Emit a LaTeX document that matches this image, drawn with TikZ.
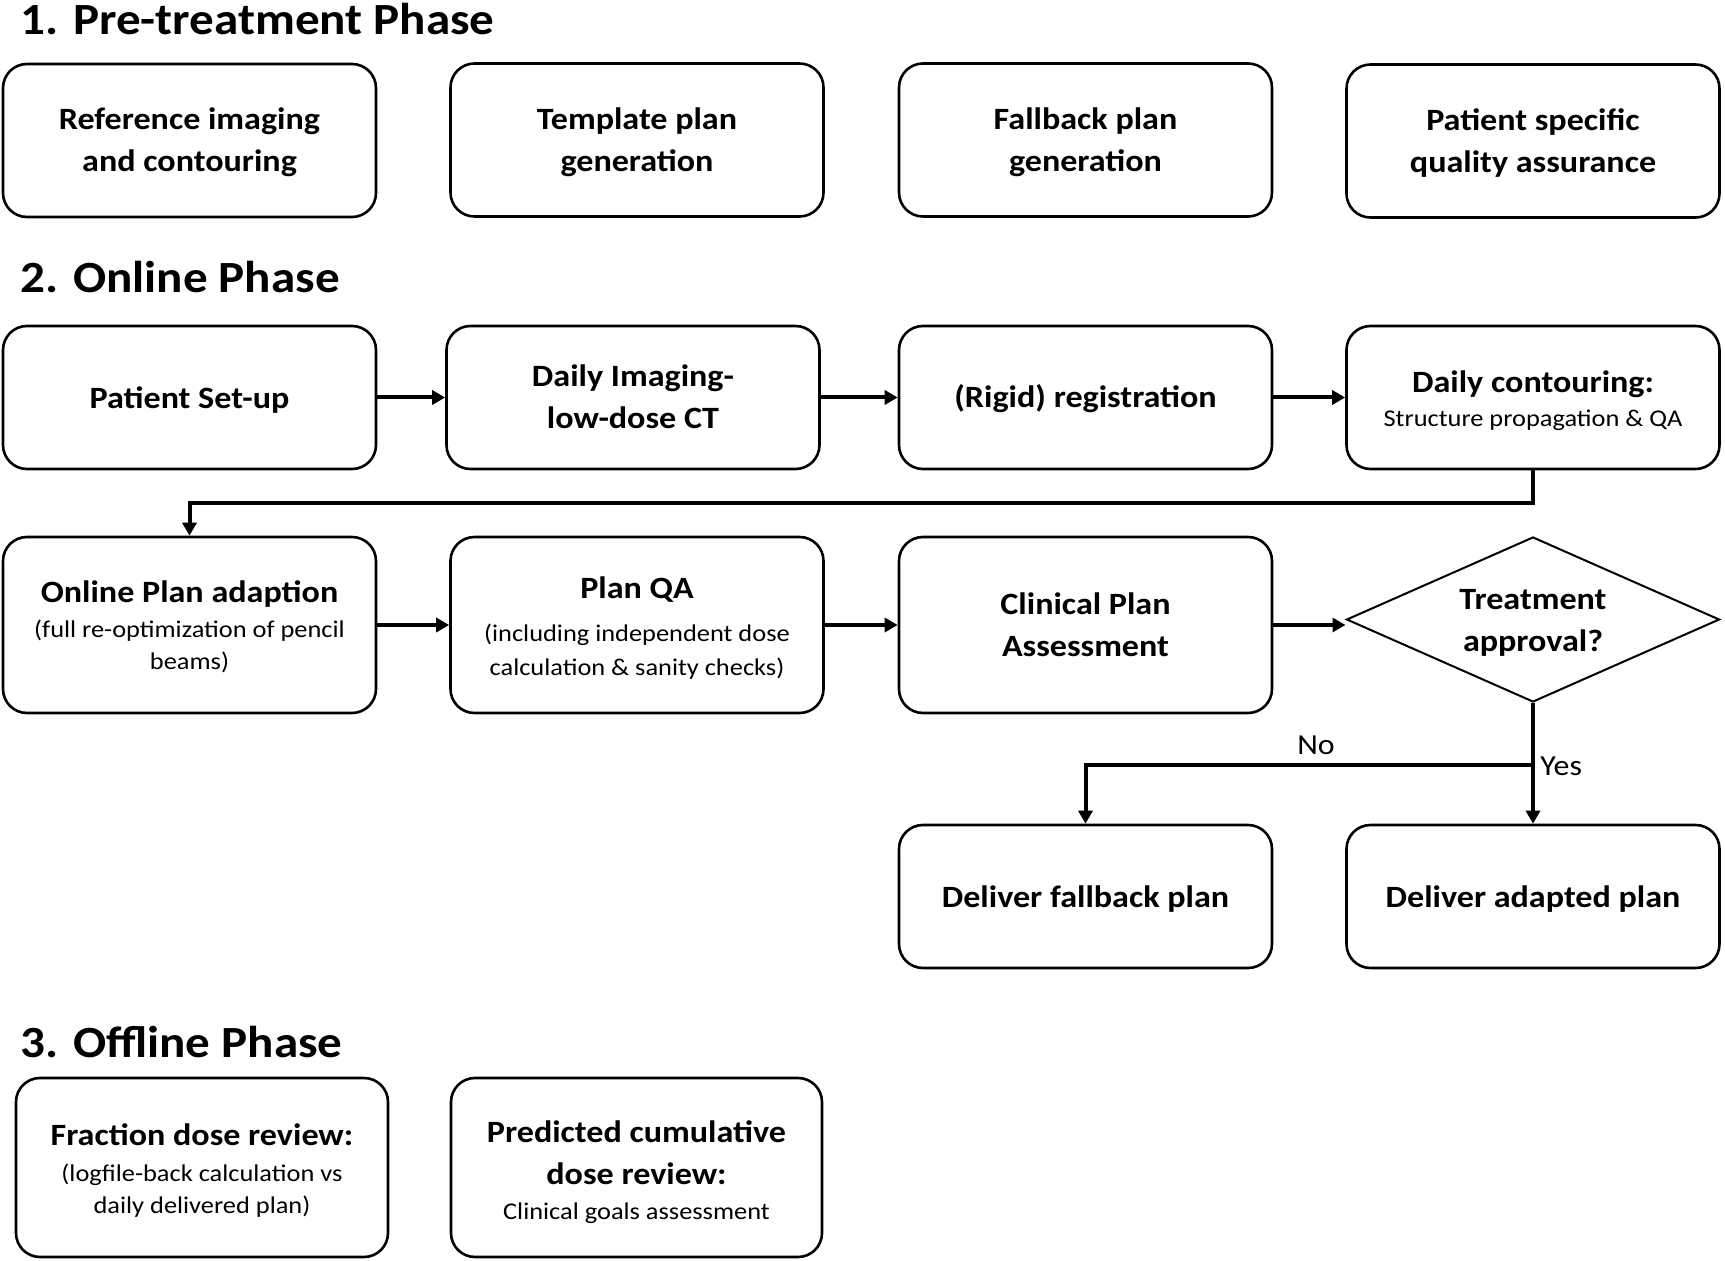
\documentclass[tikz,border=0pt]{standalone}
\usepackage{fontspec}
\setmainfont{Carlito}[FakeStretch=1.1]
\usetikzlibrary{shapes.geometric,arrows.meta}
\newcommand\bfnt{\fontsize{15.5}{21}\selectfont\bfseries}
\newcommand\sfnt{\fontsize{12}{16}\selectfont\mdseries}
\newcommand\ttlfnt{\fontsize{22.3}{26}\selectfont\bfseries}
\tikzset{
  box/.style={draw=black, line width=1.3pt, rounded corners=12pt, fill=white,
    minimum width=186.5pt, inner sep=0pt},
  dia/.style={draw=black, line width=1pt, diamond, aspect=2.26, minimum width=186.5pt,
    minimum height=82.5pt, inner sep=0pt},
  txt/.style={align=center, inner sep=0pt, font=\bfnt},
  arr/.style={line width=2pt, -{Triangle[length=6.5pt,width=7pt]}},
  ttl/.style={anchor=base west, inner sep=0pt, font=\ttlfnt},
  lbl/.style={inner sep=1pt, font=\fontsize{14.5}{17}\selectfont}
}
\begin{document}
\begin{tikzpicture}[x=0.5pt,y=-0.5pt]
\useasboundingbox[fill=white] (0,0) rectangle (1725,1261);
% titles
\node[ttl] (t1) at (20,35) {1. Pre-treatment Phase};
\node[ttl] (t2) at (20,293) {2. Online Phase};
\node[ttl] (t3) at (20,1057) {3. Offline Phase};
% row 1
\node[box, minimum height=76.5pt] (b1) at (189.5,140.5) {};
\node[box, minimum height=76.5pt] (b2) at (637,140) {};
\node[box, minimum height=76.5pt] (b3) at (1085.5,140) {};
\node[box, minimum height=76.5pt] (b4) at (1533,141) {};
\node[txt, yshift=-1.1pt] (b1t) at (b1) {Reference imaging\\and contouring};
\node[txt, yshift=-1.1pt] (b2t) at (b2) {Template plan\\generation};
\node[txt, yshift=-1.1pt] (b3t) at (b3) {Fallback plan\\generation};
\node[txt, yshift=-1.1pt] (b4t) at (b4) {Patient specific\\quality assurance};
% row 2
\node[box, minimum height=71.5pt] (b5) at (189.5,397.5) {};
\node[box, minimum height=71.5pt] (b6) at (633,397.5) {};
\node[box, minimum height=71.5pt] (b7) at (1085.5,397.5) {};
\node[box, minimum height=71.5pt] (b8) at (1533,397.5) {};
\node[txt, yshift=-1.1pt] (b5t) at (b5) {Patient Set-up};
\node[txt, yshift=0.5pt] (b6t) at (b6) {Daily Imaging-\\low-dose CT};
\node[txt, yshift=-0.5pt] (b7t) at (b7) {(Rigid) registration};
\node[txt, yshift=-1.65pt] (b8t) at (b8) {Daily contouring:\\[-4.1pt]{\sfnt Structure propagation \& QA}};
% row 3
\node[box, minimum height=88pt] (b9) at (189.5,625) {};
\node[box, minimum height=88pt] (b10) at (637,625) {};
\node[box, minimum height=88pt] (b11) at (1085.5,625) {};
\node[dia] (d) at (1533,619.5) {};
\node[txt, yshift=-0.8pt] (b9t) at (b9) {Online Plan adaption\\[-3.5pt]{\sfnt (full re-optimization of pencil}\\[-5pt]{\sfnt beams)}};
\node[txt, yshift=-1.65pt] (b10t) at (b10) {Plan QA\\[0.4pt]{\sfnt (including independent dose}\\[-4pt]{\sfnt calculation \& sanity checks)}};
\node[txt] (b11t) at (b11) {Clinical Plan\\Assessment};
\node[txt, yshift=-1.65pt] (dt) at (d) {Treatment\\approval?};
% row 4
\node[box, minimum height=71.5pt] (b12) at (1085.5,896.5) {};
\node[box, minimum height=71.5pt] (b13) at (1533,896.5) {};
\node[txt, yshift=-1.1pt] (b12t) at (b12) {Deliver fallback plan};
\node[txt, yshift=-1.1pt] (b13t) at (b13) {Deliver adapted plan};
% row 5
\node[box, minimum height=89.5pt, minimum width=186pt] (b14) at (202,1167.5) {};
\node[box, minimum height=89.5pt, minimum width=185.5pt] (b15) at (636.5,1167.5) {};
\node[txt, yshift=-1.65pt] (b14t) at (b14) {Fraction dose review:\\[-3.1pt]{\sfnt (logfile-back calculation vs}\\[-5pt]{\sfnt daily delivered plan)}};
\node[txt, yshift=-2.2pt] (b15t) at (b15) {Predicted cumulative\\dose review:\\[-3.6pt]{\sfnt Clinical goals assessment}};
% connectors
\draw[arr] (b5) -- (b6);
\draw[arr] (b6) -- (b7);
\draw[arr] (b7) -- (b8);
\draw[arr] (b8.south) -- ++(0,33) -| (b9.north);
\draw[arr] (b9) -- (b10);
\draw[arr] (b10) -- (b11);
\draw[arr] (b11.east) -- (b11.east -| d.west);
\draw[arr] (d.south) -- (b13.north);
\path (d.south) ++(0,62) coordinate (br);
\draw[arr] (br) -| (b12.north);
\node[lbl] (no) at (1316,745) {No};
\node[lbl, anchor=west] (yes) at (1538,766) {Yes};
\end{tikzpicture}
\end{document}
